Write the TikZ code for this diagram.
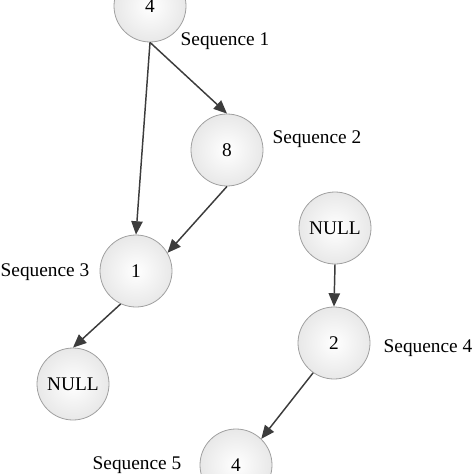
\documentclass[tikz,border=0pt]{standalone}
\usepackage{fontspec}
\setmainfont{Liberation Serif}
\usetikzlibrary{arrows.meta}
\definecolor{ringgray}{RGB}{160,160,160}
\definecolor{ballfill}{RGB}{232,232,232}
\definecolor{linkgray}{RGB}{60,60,60}
\tikzset{
  ball/.style={circle,draw=ringgray,line width=0.6pt,inner color=white,outer color=ballfill,
    minimum size=54pt,inner sep=0pt,font=\fontsize{14.5}{17}\selectfont},
  seqlabel/.style={font=\fontsize{14.5}{17}\selectfont,inner sep=0pt},
  link/.style={draw=linkgray,line width=1.1pt,-{Triangle[length=10pt,width=8.5pt]}}
}
\begin{document}
\begin{tikzpicture}[x=0.75pt,y=-0.75pt]
      \useasboundingbox (0,0) rectangle (474,474);
      \draw
        (150,6) node[ball] (top4){4}
        (227,150) node[ball] (n8){8}
        (136,271) node[ball] (n1){1}
        (73,384) node[ball] (nullL){NULL}
        (335,228) node[ball] (nullR){NULL}
        (334,343) node[ball] (n2){2}
        (236,465) node[ball] (bot4){4};
      \draw
        (225,41) node[seqlabel] (seq1){Sequence 1}
        (317,139) node[seqlabel] (seq2){Sequence 2}
        (45,272) node[seqlabel] (seq3){Sequence 3}
        (428,348) node[seqlabel] (seq4){Sequence 4}
        (137,465) node[seqlabel] (seq5){Sequence 5};
      \begin{scope}[link]
        \draw (top4.south) to (n1.north);
        \draw (top4.south) to (n8.north);
        \draw (n8.south) to (n1.30);
        \draw (n1.245) to (nullL.north);
        \draw (nullR.south) to (n2.north);
        \draw (n2.235) to (bot4.46);
      \end{scope}
    \end{tikzpicture}
\end{document}
